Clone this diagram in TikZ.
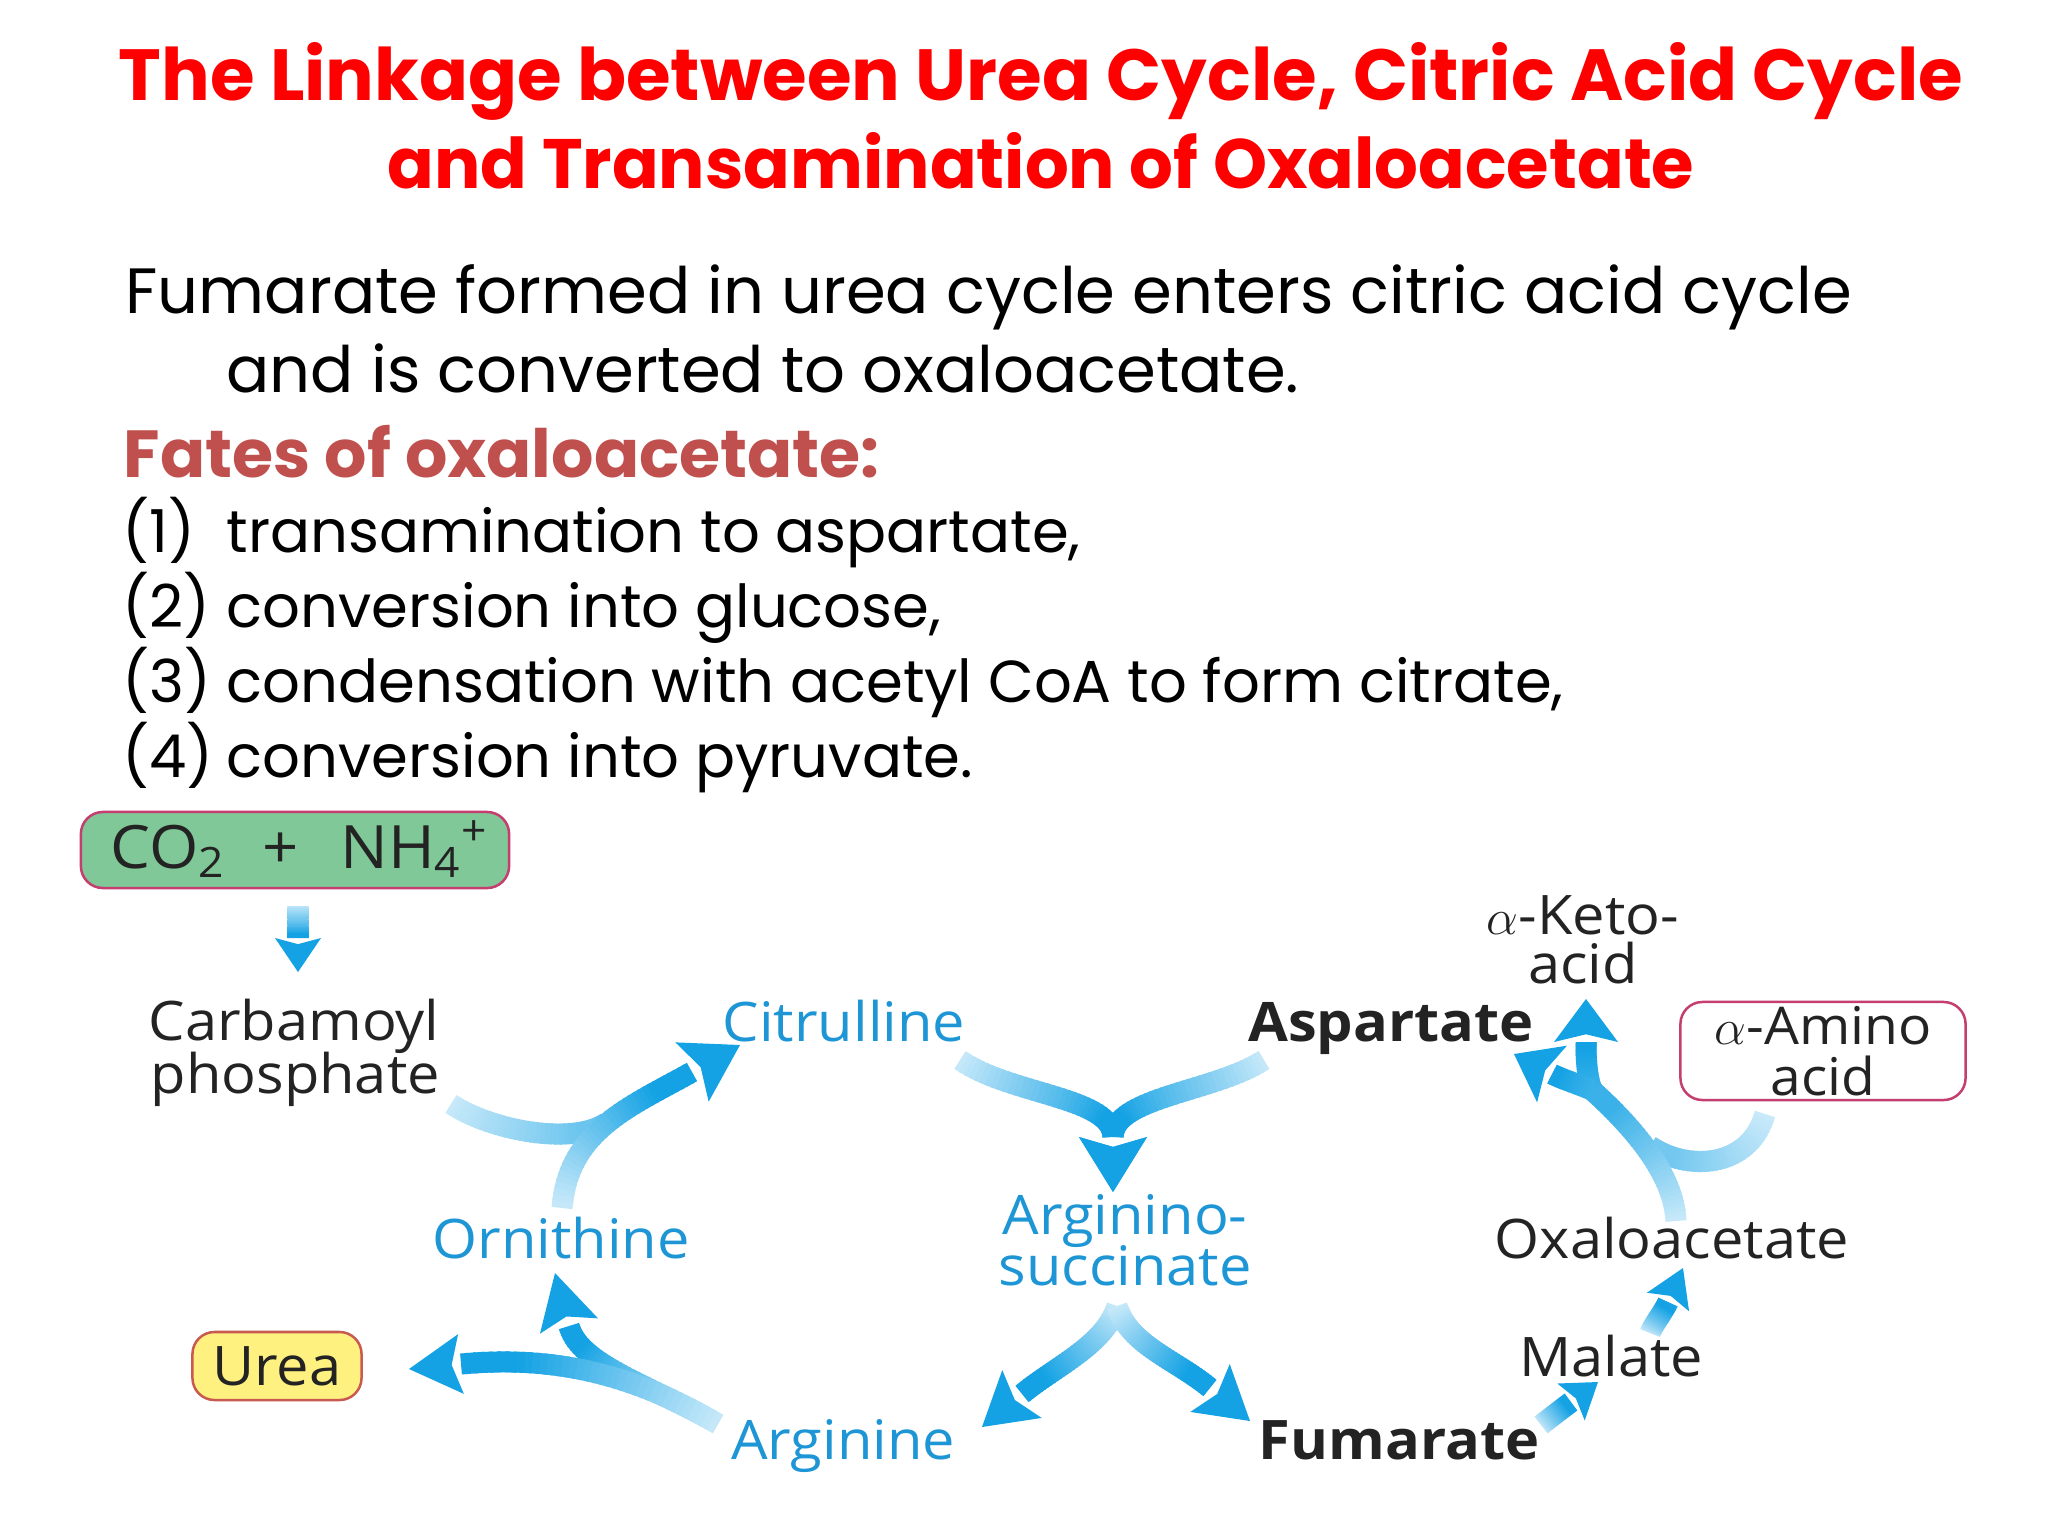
\documentclass[tikz,border=0pt]{standalone}
\usepackage{fontspec}
\usepackage{graphicx}
\setmainfont{Open Sans}
\newfontfamily\ttlfont{Poppins}
\newfontfamily\bodyfont{Poppins}
\newfontfamily\lblfont[FakeStretch=1.06]{Open Sans}
\usetikzlibrary{calc}

\definecolor{titlered}{RGB}{255,0,0}
\definecolor{fatesred}{RGB}{192,80,77}
\definecolor{cycleblue}{RGB}{30,150,213}
\definecolor{labelblack}{RGB}{35,35,35}
\definecolor{arrowdark}{RGB}{20,162,228}
\definecolor{arrowlight}{RGB}{212,238,251}
\definecolor{boxgreen}{RGB}{128,200,152}
\definecolor{boxpink}{RGB}{196,62,112}
\definecolor{boxyellow}{RGB}{255,241,128}
\definecolor{boxbrown}{RGB}{200,90,80}

\def\gN{36}
\def\gw{0.21cm}
\def\ghw{0.34cm}

% gradient stroke along a cubic curve
\newcommand{\gradpath}[6]{%
  \foreach \gi in {1,...,\gN}{%
    \pgfmathsetmacro{\ta}{(\gi-1)/\gN}%
    \pgfmathsetmacro{\tb}{min(1,(\gi+0.5)/\gN)}%
    \pgfmathsetmacro{\pc}{#5+(#6-#5)*min(1,((\gi-0.5)/\gN)/0.8)}%
    \path (#1) .. controls (#2) and (#3) .. (#4) coordinate[pos=\ta] (ga) coordinate[pos=\tb] (gb);%
    \draw[line width=\gw, color=arrowdark!\pc!arrowlight] (ga) -- (gb);%
  }%
}
% gradient arrow: start, control, distance of 2nd control behind shaft end, shaft end, tip, start shade
\newcommand{\gradarrow}[6]{%
  \coordinate (gc) at ($(#4)!-#3!(#5)$);%
  \gradpath{#1}{#2}{gc}{#4}{#6}{100}%
  \fill[arrowdark] (#5) -- ($(#4)!\ghw!90:(#5)$) -- ($(#4)!0.18!(#5)$) -- ($(#4)!\ghw!-90:(#5)$) -- cycle;%
}

\pgfmathsetmacro{\bodyfac}{17.25cm/width("{\bodyfont\fontsize{20}{24}\selectfont Fumarate formed in urea cycle enters citric acid cycle}")}
\pgfmathsetmacro{\listfac}{\bodyfac*0.925}
\pgfmathsetmacro{\fatesfac}{\bodyfac*1.04}
\pgfmathsetlengthmacro{\indw}{1.04cm/\listfac}
\newcommand{\bt}[1]{\scalebox{\bodyfac}{\bodyfont\fontsize{20}{24}\selectfont #1}}
\newcommand{\blt}[1]{\scalebox{\listfac}{\bodyfont\fontsize{20}{24}\selectfont #1}}
\newcommand{\bft}[1]{\scalebox{\fatesfac}{\bodyfont\fontsize{20}{24}\selectfont #1}}

\tikzset{
  lbl/.style={font=\lblfont\fontsize{15.5}{15}\selectfont, inner sep=0pt, anchor=base},
  bluelbl/.style={lbl, text=cycleblue},
  blklbl/.style={lbl, text=labelblack},
  boldlbl/.style={lbl, text=labelblack, font=\lblfont\bfseries\fontsize{15.5}{15}\selectfont},
  roundbox/.style={draw=boxpink, line width=0.025cm, rounded corners=0.22cm, inner sep=0pt},
  bodyline/.style={anchor=base west, inner sep=0pt},
}

\begin{document}
\begin{tikzpicture}[x=0.01cm, y=-0.01cm]
\useasboundingbox (0,0) rectangle (2048,1536);
\fill[white] (0,0) rectangle (2048,1536);

% ---------- title ----------
\node[anchor=base, inner sep=0pt, text=titlered] (title1) at (1041,100)
  {\resizebox{18.43cm}{0.58cm}{\ttlfont\bfseries The Linkage between Urea Cycle, Citric Acid Cycle}};
\node[anchor=base, inner sep=0pt, text=titlered] (title2) at (1041,188)
  {\resizebox{13.06cm}{0.56cm}{\ttlfont\bfseries and Transamination of Oxaloacetate}};

% ---------- body ----------
\node[bodyline] (line1) at (125,313) {\bt{Fumarate formed in urea cycle enters citric acid cycle}};
\node[bodyline] (line2) at (226,392) {\bt{and is converted to oxaloacetate.}};
\node[bodyline, text=fatesred] (fates) at (123,477) {\bft{\bfseries Fates of oxaloacetate:}};
\node[bodyline] (fate1) at (122,552) {\blt{\makebox[\indw][l]{(1)}transamination to aspartate,}};
\node[bodyline] (fate2) at (122,627) {\blt{\makebox[\indw][l]{(2)}conversion into glucose,}};
\node[bodyline] (fate3) at (122,702) {\blt{\makebox[\indw][l]{(3)}condensation with acetyl CoA to form citrate,}};
\node[bodyline] (fate4) at (122,777) {\blt{\makebox[\indw][l]{(4)}conversion into pyruvate.}};

% ---------- boxes ----------
\node[roundbox, fill=boxgreen, minimum width=4.28cm, minimum height=0.76cm] (co2) at (295,850) {};
\node[inner sep=0pt, anchor=base, font=\lblfont\fontsize{17}{17}\selectfont, text=labelblack] (co2txt) at (300,868)
  {CO\textsubscript{2}\hspace{0.36cm}+\hspace{0.42cm}NH\textsubscript{4}\textsuperscript{+}};
\node[roundbox, draw=boxbrown, fill=boxyellow, minimum width=1.69cm, minimum height=0.68cm,
      font=\lblfont\fontsize{15.5}{15}\selectfont, text=labelblack] (urea) at (277,1366) {Urea};
\node[roundbox, fill=white, minimum width=2.85cm, minimum height=0.98cm, align=center,
      font=\lblfont\fontsize{14.8}{14.6}\selectfont, text=labelblack] (amino) at (1823,1051)
  {$\alpha$-Amino\\acid};

% ---------- labels ----------
\node[blklbl, anchor=base west] (carb1) at (148,1040) {Carbamoyl};
\node[blklbl, anchor=base west] (carb2) at (150,1093) {phosphate};
\node[bluelbl] (citr) at (844,1041) {Citrulline};
\node[boldlbl] (asp) at (1391,1041) {Aspartate};
\node[blklbl] (keto1) at (1583,934) {$\alpha$-Keto-};
\node[blklbl] (keto2) at (1583,983) {acid};
\node[bluelbl] (orn) at (561,1258) {Ornithine};
\node[bluelbl] (asuc1) at (1125,1234) {Arginino-};
\node[bluelbl] (asuc2) at (1125,1285) {succinate};
\node[blklbl] (oaa) at (1672,1258) {Oxaloacetate};
\node[bluelbl] (arg) at (843,1459) {Arginine};
\node[boldlbl] (fum) at (1399,1459) {Fumarate};
\node[blklbl] (mal) at (1611,1376) {Malate};

% ---------- connector end points ----------
\coordinate (ornTop) at (562,1208);
\coordinate (ornC) at (568,1130);
\coordinate (citrS) at (692,1072);
\coordinate (citrT) at (740,1045);
\coordinate (carbOut) at (451,1104);
\coordinate (carbC1) at (490,1130);
\coordinate (carbC2) at (572,1146);
\coordinate (carbJoin) at (606,1123);

\coordinate (citrOut) at (960,1060);
\coordinate (citrC) at (1010,1095);
\coordinate (aspOut) at (1264,1060);
\coordinate (aspC) at (1215,1092);
\coordinate (asucS) at (1113,1137);
\coordinate (asucT) at (1113,1192);

\coordinate (asucOut) at (1117,1306);
\coordinate (asucCL) at (1105,1345);
\coordinate (argS) at (1022,1394);
\coordinate (argT) at (982,1427);
\coordinate (asucCR) at (1129,1345);
\coordinate (fumS) at (1210,1388);
\coordinate (fumT) at (1250,1421);

\coordinate (argOut) at (718,1424);
\coordinate (argC1) at (650,1385);
\coordinate (ornS) at (569,1326);
\coordinate (ornT) at (555,1273);
\coordinate (argC2) at (640,1378);
\coordinate (ureaS) at (461,1364);
\coordinate (ureaT) at (409,1369);

\coordinate (fumOut) at (1541,1425);
\coordinate (fumC) at (1550,1418);
\coordinate (malS) at (1571,1402);
\coordinate (malT) at (1598,1382);
\coordinate (malOut) at (1650,1333);
\coordinate (malC) at (1653,1325);
\coordinate (oaaS) at (1668,1302);
\coordinate (oaaT) at (1683,1268);

\coordinate (oaaOut) at (1676,1221);
\coordinate (oaaC1) at (1674,1170);
\coordinate (oaaC2) at (1625,1120);
\coordinate (split) at (1592,1090);
\coordinate (ketoC) at (1586,1075);
\coordinate (ketoS) at (1586,1042);
\coordinate (ketoT) at (1586,999);
\coordinate (aspC2) at (1575,1083);
\coordinate (aspS) at (1552,1074);
\coordinate (aspT) at (1514,1054);
\coordinate (aminoOut) at (1765,1114);
\coordinate (aminoC1) at (1750,1168);
\coordinate (aminoC2) at (1688,1172);
\coordinate (aminoJoin) at (1650,1146);

\coordinate (co2Out) at (298,906);
\coordinate (co2C) at (298,918);
\coordinate (carbS) at (298,938);
\coordinate (carbT) at (298,972);

% ---------- connectors ----------
% CO2 + NH4+ -> carbamoyl phosphate
\def\ghw{0.23cm}
\gradarrow{co2Out}{co2C}{0.05cm}{carbS}{carbT}{12}
\def\ghw{0.34cm}
% carbamoyl phosphate + ornithine -> citrulline
\gradpath{carbOut}{carbC1}{carbC2}{carbJoin}{6}{55}
\gradarrow{ornTop}{ornC}{0.7cm}{citrS}{citrT}{6}
% citrulline + aspartate -> argininosuccinate
\gradarrow{citrOut}{citrC}{0.4cm}{asucS}{asucT}{6}
\gradarrow{aspOut}{aspC}{0.4cm}{asucS}{asucT}{6}
% argininosuccinate -> arginine, fumarate
\def\ghw{0.31cm}
\gradarrow{asucOut}{asucCL}{0.45cm}{argS}{argT}{6}
\gradarrow{asucOut}{asucCR}{0.45cm}{fumS}{fumT}{6}
% arginine -> ornithine, urea
\def\ghw{0.3cm}
\gradarrow{argOut}{argC1}{0.4cm}{ornS}{ornT}{6}
\gradarrow{argOut}{argC2}{1.0cm}{ureaS}{ureaT}{6}
% fumarate -> malate -> oxaloacetate
\def\ghw{0.23cm}
\gradarrow{fumOut}{fumC}{0.1cm}{malS}{malT}{10}
\gradarrow{malOut}{malC}{0.1cm}{oaaS}{oaaT}{10}
% oxaloacetate + alpha-amino acid -> aspartate + alpha-keto acid
\def\ghw{0.32cm}
\gradpath{aminoOut}{aminoC1}{aminoC2}{aminoJoin}{6}{50}
\gradpath{oaaOut}{oaaC1}{oaaC2}{split}{6}{80}
\gradarrow{split}{ketoC}{0.1cm}{ketoS}{ketoT}{80}
\gradarrow{split}{aspC2}{0.1cm}{aspS}{aspT}{80}
\end{tikzpicture}
\end{document}
